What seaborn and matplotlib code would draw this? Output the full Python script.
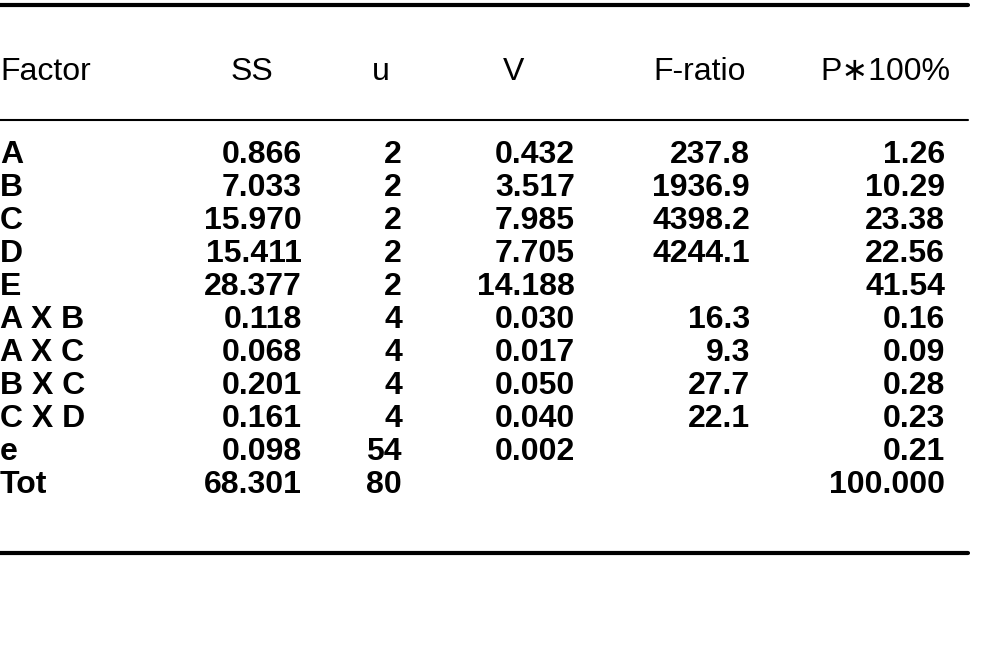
import matplotlib.pyplot as plt
import seaborn as sns

factors = ["A", "B", "C", "D", "E", "A X B", "A X C", "B X C", "C X D", "e", "Tot"]
ss = ["0.866", "7.033", "15.970", "15.411", "28.377", "0.118", "0.068", "0.201", "0.161", "0.098", "68.301"]
dof = ["2", "2", "2", "2", "2", "4", "4", "4", "4", "54", "80"]
var = ["0.432", "3.517", "7.985", "7.705", "14.188", "0.030", "0.017", "0.050", "0.040", "0.002", ""]
fratio = ["237.8", "1936.9", "4398.2", "4244.1", "", "16.3", "9.3", "27.7", "22.1", "", ""]
pct = ["1.26", "10.29", "23.38", "22.56", "41.54", "0.16", "0.09", "0.28", "0.23", "0.21", "100.000"]
headers = ["Factor", "SS", "u", "V", "F-ratio", "P\u2217100%"]

sns.set_theme(style="white")
plt.rcParams['font.family'] = ['Liberation Sans', 'DejaVu Sans']
plt.rcParams['text.color'] = 'black'

fig = plt.figure(figsize=(9.81, 6.52), dpi=100)
ax = fig.add_axes([0, 0, 1, 1])
ax.set_xlim(0, 981)
ax.set_ylim(652, 0)
ax.axis("off")

# header positions (centre) and column right edges
head_x = [0, 252, 381, 514, 700, 885]
head_ha = ["left", "center", "center", "center", "center", "center"]
col_right = [302, 402, 575, 750, 945]
fs = 23

for h, x, ha in zip(headers, head_x, head_ha):
    ax.text(x, 72, h, fontsize=fs, ha=ha, va="center", color="black")

for line_y, lw in [(5, 3), (120, 1.5), (553, 3)]:
    ax.plot([0, 968], [line_y, line_y], color="black", lw=lw)

row0, step = 155, 33
for i, f in enumerate(factors):
    y = row0 + i * step
    ax.text(0, y, f, fontsize=fs, ha="left", va="center", fontweight="bold", color="black")
    for col, x in zip([ss, dof, var, fratio, pct], col_right):
        ax.text(x, y, col[i], fontsize=fs, ha="right", va="center", fontweight="bold", color="black")

fig.savefig("out.png", dpi=100, facecolor="white")
